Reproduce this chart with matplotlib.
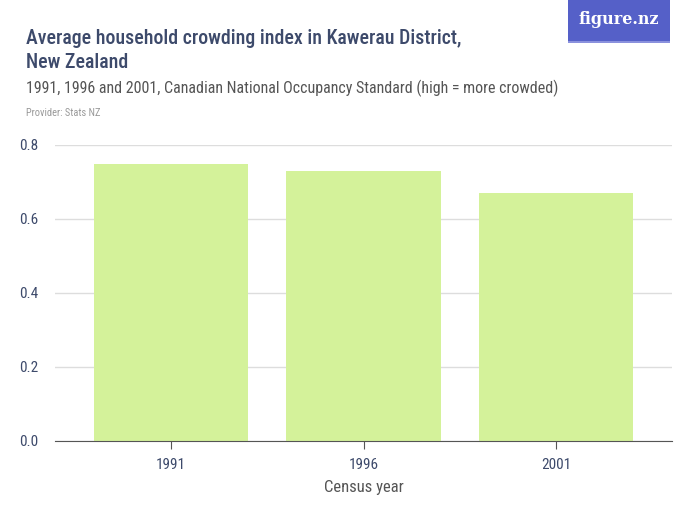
import matplotlib
matplotlib.use("Agg")
import matplotlib.pyplot as plt
from matplotlib import font_manager as fm
from matplotlib.patches import Rectangle

years = ["1991", "1996", "2001"]
values = [0.75, 0.73, 0.67]
yticks = [0.0, 0.2, 0.4, 0.6, 0.8]

names = {f.name for f in fm.fontManager.ttflist}
cond = [n for n in ["Roboto Condensed", "Archivo Narrow", "PT Sans Narrow"] if n in names] + ["DejaVu Sans"]

fig = plt.figure(figsize=(7, 5.25), dpi=100)
ax = fig.add_axes([55/700, 1-441/525, (672-55)/700, (441-145)/525])

ax.bar(range(len(years)), values, width=0.8, color="#d4f29a", zorder=2)
ax.set_xlim(-0.6, len(years) - 0.4)
ax.set_ylim(0, 0.8)
ax.set_yticks(yticks)
ax.set_yticklabels([f"{t:.1f}" for t in yticks], fontsize=11, color="#3d4a6b", family=cond)
ax.set_xticks(range(len(years)))
ax.set_xticklabels(years, fontsize=11, color="#3d4a6b", family=cond)
ax.grid(axis="y", color="#dddddd", linewidth=1, zorder=0)
for s in ["top", "right", "left"]:
    ax.spines[s].set_visible(False)
ax.spines["bottom"].set_color("#555555")
ax.tick_params(axis="y", length=0, pad=12)
ax.tick_params(axis="x", length=6, color="#555555", pad=6)
ax.set_xlabel("Census year", fontsize=12, color="#555555", family=cond, labelpad=6)

fig.text(26/700, 1-38/525, "Average household crowding index in Kawerau District,",
         fontsize=14.3, color="#3d4a6b", family=cond, weight="medium", va="center")
fig.text(26/700, 1-62/525, "New Zealand",
         fontsize=14.3, color="#3d4a6b", family=cond, weight="medium", va="center")
fig.text(26/700, 1-88/525, "1991, 1996 and 2001, Canadian National Occupancy Standard (high = more crowded)",
         fontsize=11.5, color="#555555", family=cond, va="center")
fig.text(26/700, 1-113/525, "Provider: Stats NZ", fontsize=7.5, color="#999999", family=cond, va="center")

fig.patches.append(Rectangle((568/700, 1-43/525), 102/700, 43/525, transform=fig.transFigure,
                             facecolor="#5560c8", edgecolor="none"))
fig.patches.append(Rectangle((568/700, 1-43/525), 102/700, 1.5/525, transform=fig.transFigure,
                             facecolor="#8a91dd", edgecolor="none"))
fig.text(619/700, 1-20/525, "figure.nz", fontsize=11.5, color="white", family="DejaVu Serif",
         ha="center", va="center", weight="bold")

fig.savefig("out.png", dpi=100)
